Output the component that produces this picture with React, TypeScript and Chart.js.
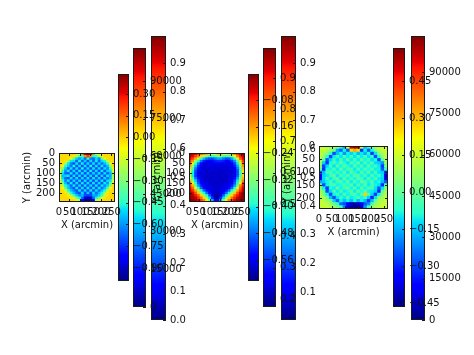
import React, { useEffect, useRef } from "react";
import { Chart, registerables } from "chart.js";

Chart.register(...registerables);

const W = 474;
const H = 355;
const FONT = "'DejaVu Sans', sans-serif";

const gridOne = [
  [-2,-2,-2,-2,-2,-2,-4,-8,10,37,42,38,10,-18,-6,-2,-2,-2,-2,-2],
  [-2,-2,-2,-2,-2,-4,-20,-40,-42,10,22,10,-44,-42,-20,-5,-2,-2,-2,-2],
  [-2,-2,-2,-3,-10,-35,-52,-60,-50,-66,-42,-62,-66,-50,-62,-33,-8,-2,-2,-2],
  [-2,-2,-4,-22,-48,-50,-68,-46,-68,-52,-70,-50,-68,-48,-68,-50,-46,-18,-3,-2],
  [-2,-3,-20,-48,-62,-70,-48,-70,-46,-70,-50,-70,-48,-70,-50,-66,-54,-40,-10,-2],
  [-2,-12,-44,-52,-66,-46,-70,-50,-71,-48,-70,-46,-70,-49,-70,-48,-66,-54,-26,-3],
  [-3,-28,-52,-68,-48,-70,-49,-71,-46,-70,-50,-71,-48,-70,-50,-70,-49,-62,-38,-6],
  [-6,-42,-62,-48,-70,-50,-70,-48,-70,-50,-70,-48,-70,-50,-71,-48,-70,-52,-50,-14],
  [-10,-50,-66,-70,-48,-71,-49,-70,-48,-72,-49,-70,-50,-70,-48,-71,-49,-68,-56,-20],
  [-12,-55,-52,-48,-71,-49,-70,-50,-71,-48,-70,-50,-72,-48,-70,-50,-71,-48,-58,-22],
  [-10,-52,-66,-71,-49,-70,-48,-71,-50,-70,-49,-71,-48,-70,-50,-71,-49,-66,-56,-20],
  [-6,-44,-62,-48,-71,-50,-70,-49,-71,-48,-70,-50,-71,-49,-70,-48,-70,-50,-48,-14],
  [-3,-30,-54,-68,-48,-70,-49,-71,-48,-70,-49,-71,-48,-70,-50,-70,-48,-60,-36,-6],
  [-2,-18,-46,-52,-68,-48,-70,-50,-71,-48,-70,-50,-71,-48,-70,-49,-62,-50,-26,-3],
  [-2,-8,-34,-52,-62,-70,-48,-70,-49,-71,-48,-70,-49,-70,-48,-66,-54,-38,-9,-2],
  [-2,-3,-14,-42,-54,-62,-70,-48,-70,-50,-70,-48,-70,-49,-66,-54,-44,-16,-3,-2],
  [-2,-2,-4,-20,-44,-54,-66,-70,-50,-72,-52,-72,-50,-66,-54,-46,-22,-4,-2,-2],
  [-2,-2,-2,-5,-20,-40,-52,-62,-56,-70,-72,-70,-56,-60,-50,-36,-16,-4,-2,-2],
  [-2,-2,-2,-2,-5,-14,-32,-46,-66,-88,-92,-88,-66,-46,-30,-12,-4,-2,-2,-2],
  [-2,-2,-2,-2,-2,-3,-6,-18,-82,-96,-98,-96,-82,-16,-5,-3,-2,-2,-2,-2],
];

const gridTwo = [
  [-1,-3,-6,-9,-12,-15,-18,-20,-24,-22,-18,-18,-22,-24,-20,-18,-14,-9,-5,-1],
  [-3,-6,-10,-14,-20,-27,-33,-37,-38,-36,-33,-33,-36,-38,-36,-31,-24,-14,-8,-3],
  [-6,-10,-17,-27,-36,-43,-48,-50,-50,-47,-44,-44,-47,-50,-49,-44,-36,-24,-12,-6],
  [-9,-16,-28,-38,-47,-53,-55,-55,-55,-53,-52,-52,-53,-55,-55,-52,-45,-34,-20,-9],
  [-12,-24,-36,-47,-54,-57,-57,-57,-56,-56,-56,-56,-56,-57,-57,-55,-50,-40,-26,-12],
  [-16,-30,-42,-52,-56,-57,-58,-57,-57,-57,-57,-57,-58,-57,-57,-56,-53,-44,-30,-15],
  [-20,-35,-47,-54,-57,-58,-57,-58,-57,-58,-57,-58,-57,-58,-57,-57,-55,-47,-34,-18],
  [-23,-38,-50,-55,-57,-58,-59,-57,-58,-58,-58,-58,-59,-57,-58,-58,-56,-50,-36,-20],
  [-24,-40,-51,-56,-58,-57,-58,-58,-59,-58,-58,-59,-58,-58,-57,-58,-56,-50,-37,-21],
  [-25,-40,-51,-56,-57,-58,-59,-58,-58,-58,-59,-58,-58,-59,-58,-57,-56,-49,-36,-20],
  [-22,-36,-47,-54,-57,-58,-58,-58,-59,-58,-58,-59,-58,-58,-58,-57,-54,-45,-32,-18],
  [-18,-30,-42,-51,-56,-57,-58,-59,-58,-58,-58,-58,-59,-58,-57,-56,-51,-40,-27,-14],
  [-12,-24,-38,-49,-55,-57,-57,-58,-58,-59,-59,-58,-58,-57,-57,-55,-49,-38,-23,-10],
  [-8,-18,-32,-45,-53,-56,-57,-57,-58,-58,-58,-58,-57,-57,-56,-53,-45,-32,-15,-7],
  [-6,-13,-25,-38,-48,-54,-56,-57,-57,-58,-58,-57,-57,-56,-54,-48,-38,-25,-12,-5],
  [-4,-9,-17,-28,-38,-48,-54,-56,-57,-58,-58,-57,-56,-54,-48,-38,-28,-17,-9,-3],
  [-2,-5,-11,-19,-29,-39,-48,-54,-57,-59,-59,-57,-54,-48,-39,-29,-19,-11,-5,-2],
  [-1,-3,-7,-12,-20,-29,-39,-49,-56,-60,-60,-56,-49,-39,-29,-20,-12,-7,-3,-1],
  [-1,-2,-4,-8,-13,-20,-29,-41,-52,-60,-61,-52,-41,-29,-20,-13,-8,-4,-2,-1],
  [0,-1,-2,-5,-9,-14,-22,-32,-44,-55,-55,-44,-32,-22,-14,-9,-5,-2,-1,0],
];

const gridThree = [
  [15,14,15,12,10,8,-4,-16,20,50,55,53,20,-14,-5,6,11,15,14,15],
  [15,15,12,8,4,-16,-24,-8,-24,25,30,25,-28,-8,-24,-8,5,12,15,15],
  [14,12,8,-4,-26,-14,-7,-18,-8,-12,-6,-14,-9,-16,-6,-28,-10,6,12,14],
  [13,8,-4,-26,-9,-2,-10,0,-9,-2,-10,-2,-9,0,-10,-4,-26,-6,8,13],
  [12,3,-24,-12,-3,-10,0,-9,1,-9,-1,-9,1,-8,-1,-11,-7,-26,2,12],
  [10,-12,-28,-7,-1,-8,1,-7,-10,0,-7,1,-9,-1,-8,0,-11,-12,-18,8],
  [6,-27,-11,-2,-10,0,-8,1,-6,-9,0,-8,-1,-9,1,-8,-2,-9,-28,5],
  [2,-30,-7,-8,0,-9,1,-8,0,-1,-9,0,-8,0,-7,0,-9,-8,-24,-3],
  [-22,-14,-3,0,-8,-1,-8,0,-9,1,-6,-9,1,-8,0,-9,-1,-10,-12,-30],
  [-36,-12,-9,-2,1,-9,0,-7,0,-8,1,-1,-8,0,-9,-1,-8,-2,-10,-38],
  [-34,-11,-1,-9,-2,0,-9,1,-8,-1,-8,0,-2,-9,0,-8,0,-9,-11,-36],
  [-16,-13,-8,0,-9,-1,0,-8,1,-9,0,-8,1,-1,-8,1,-9,-7,-14,-24],
  [3,-26,-8,-2,0,-8,-7,0,-7,0,-9,-1,-8,1,-9,-2,-8,-10,-30,0],
  [7,-8,-28,-6,-9,1,-8,-2,1,-8,0,-9,0,-8,-1,0,-10,-24,-10,6],
  [10,3,-26,-11,0,-9,0,-9,-7,1,-9,0,-7,2,-8,-9,-12,-30,2,11],
  [12,7,-8,-26,-8,-2,-9,0,-8,-2,0,-8,0,26,0,-11,-28,-8,7,12],
  [14,11,4,-14,-26,-10,-3,-9,-1,-9,-7,0,-8,-2,-12,-30,-10,6,11,14],
  [15,13,10,4,-12,-24,-8,-14,-8,-14,-6,-14,-8,-14,-28,-14,3,10,13,15],
  [15,15,13,9,3,-4,-22,-26,-34,-40,-42,-40,-34,-24,-18,-2,8,13,15,15],
  [15,15,15,13,9,6,-2,-20,-38,-44,-46,-44,-40,-18,0,8,11,14,15,15],
];

const xTicks = [0, 50, 100, 150, 200, 250];
const yTicks = [0, 50, 100, 150, 200];
const xLabel = "X (arcmin)";
const yLabel = "Y (arcmin)";

const ticksOneA = [0.3, 0.15, 0, -0.15, -0.3, -0.45, -0.6, -0.75, -0.9];
const ticksCounts = [90000, 75000, 60000, 45000, 30000, 15000, 0];
const ticksFraction = [0.9, 0.8, 0.7, 0.6, 0.5, 0.4, 0.3, 0.2, 0.1, 0];
const ticksTwoA = [-0.08, -0.16, -0.24, -0.32, -0.4, -0.48, -0.56];
const ticksTwoB = [0.9, 0.8, 0.7, 0.6, 0.5, 0.4, 0.3, 0.2];
const ticksTwoC = [0.9, 0.8, 0.7, 0.6, 0.5, 0.4, 0.3, 0.2, 0.1];
const ticksThreeA = [0.45, 0.3, 0.15, 0, -0.15, -0.3, -0.45];

const jetStops: [number, string][] = [
  [0, "rgb(0,0,128)"], [0.11, "rgb(0,0,255)"], [0.125, "rgb(0,0,255)"],
  [0.34, "rgb(0,219,255)"], [0.375, "rgb(41,255,206)"], [0.64, "rgb(247,255,0)"],
  [0.66, "rgb(255,236,0)"], [0.89, "rgb(255,18,0)"], [0.91, "rgb(228,0,0)"], [1, "rgb(128,0,0)"],
];

function interp(pts: number[][], t: number) {
  for (let i = 1; i < pts.length; i++) {
    if (t <= pts[i][0]) {
      const [a, va] = pts[i - 1];
      const [b, vb] = pts[i];
      return va + ((vb - va) * (t - a)) / (b - a);
    }
  }
  return pts[pts.length - 1][1];
}
function jet(t0: number) {
  const t = Math.max(0, Math.min(1, t0));
  const r = interp([[0, 0], [0.35, 0], [0.66, 1], [0.89, 1], [1, 0.5]], t);
  const g = interp([[0, 0], [0.125, 0], [0.375, 1], [0.64, 1], [0.91, 0], [1, 0]], t);
  const b = interp([[0, 0.5], [0.11, 1], [0.34, 1], [0.65, 0], [1, 0]], t);
  return `rgb(${Math.round(r * 255)},${Math.round(g * 255)},${Math.round(b * 255)})`;
}

type Box = { x0: number; x1: number; y0: number; y1: number };

const framePlugin = {
  id: "frame",
  afterDatasetsDraw(chart: any, _a: any, opts: any) {
    if (opts.hidden) return;
    const { ctx, chartArea: a, scales } = chart;
    ctx.save();
    ctx.strokeStyle = "#1a1a1a";
    ctx.lineWidth = 1;
    ctx.strokeRect(Math.round(a.left) + 0.5, Math.round(a.top) + 0.5, Math.round(a.right - a.left) - 1, Math.round(a.bottom - a.top) - 1);
    ctx.beginPath();
    const len = 3;
    for (const t of scales.y.ticks) {
      const p = Math.round(scales.y.getPixelForValue(t.value)) + 0.5;
      ctx.moveTo(a.right, p);
      ctx.lineTo(a.right - len, p);
      if (opts.all) {
        ctx.moveTo(a.left, p);
        ctx.lineTo(a.left + len, p);
      }
    }
    if (opts.all) {
      for (const t of scales.x.ticks) {
        const p = Math.round(scales.x.getPixelForValue(t.value)) + 0.5;
        ctx.moveTo(p, a.top);
        ctx.lineTo(p, a.top + len);
        ctx.moveTo(p, a.bottom);
        ctx.lineTo(p, a.bottom - len);
      }
    }
    ctx.stroke();
    ctx.restore();
  },
};

function valueBar(canvas: HTMLCanvasElement, box: Box, min: number, max: number, ticks: number[], digits: number) {
  return new Chart(canvas, {
    type: "bar",
    data: {
      labels: [""],
      datasets: [{
        data: [[min, max]] as any,
        barPercentage: 1,
        categoryPercentage: 1,
        borderWidth: 0,
        inflateAmount: 0,
        backgroundColor: (c: any) => {
          const a = c.chart.chartArea;
          if (!a) return "#000";
          const g = c.chart.ctx.createLinearGradient(0, a.bottom, 0, a.top);
          jetStops.forEach(([s, col]) => g.addColorStop(s, col));
          return g;
        },
      }],
    },
    plugins: [framePlugin],
    options: {
      responsive: false,
      animation: false,
      events: [],
      layout: { padding: { left: box.x0, top: box.y0, bottom: H - box.y1, right: 0 } },
      plugins: { legend: { display: false }, tooltip: { enabled: false }, frame: { all: false } } as any,
      scales: {
        x: { display: false },
        y: {
          position: "right",
          min,
          max,
          grid: { display: false, drawTicks: false },
          border: { display: false },
          afterFit: (s: any) => { s.width = W - box.x1; },
          afterBuildTicks: (s: any) => { s.ticks = ticks.map((value) => ({ value })); },
          ticks: {
            autoSkip: false,
            padding: 4,
            color: "#111",
            font: { family: FONT, size: 10 },
            callback: (v: any) => Number(v).toFixed(digits).replace("-", "\u2212"),
          },
        },
      },
    },
  } as any);
}

// layer "cells" draws the image only, layer "axes" its frame, ticks and titles.
function heatMap(canvas: HTMLCanvasElement, layer: "cells" | "axes", box: Box, grid: number[][], xMax: number, yMax: number, min: number, max: number) {
  const cols = grid[0].length;
  const rows = grid.length;
  const cw = xMax / cols;
  const ch = yMax / rows;
  const cells: any[] = [];
  if (layer === "cells") {
    grid.forEach((row, r) => row.forEach((v, c) => {
      cells.push({ x: (c + 0.5) * cw, y: [r * ch, (r + 1) * ch], v: v / 100 });
    }));
  }
  const base = { size: 10, family: FONT };
  const ink = layer === "axes" ? "#111" : "rgba(0,0,0,0)";
  return new Chart(canvas, {
    type: "bar",
    data: {
      datasets: [{
        data: cells,
        barPercentage: 1,
        categoryPercentage: 1,
        borderWidth: 0,
        inflateAmount: 0.5,
        backgroundColor: (c: any) => jet(((c.raw ? c.raw.v : min) - min) / (max - min)),
      }],
    },
    plugins: [framePlugin],
    options: {
      responsive: false,
      animation: false,
      events: [],
      layout: { padding: { left: 0, top: box.y0, bottom: 0, right: W - box.x1 } },
      plugins: { legend: { display: false }, tooltip: { enabled: false }, frame: { all: true, hidden: layer === "cells" } } as any,
      scales: {
        x: {
          type: "linear",
          position: "bottom",
          offset: false,
          min: 0,
          max: xMax,
          grid: { display: false, drawTicks: false, offset: false },
          border: { display: false },
          afterFit: (s: any) => { s.height = H - box.y1; },
          afterBuildTicks: (s: any) => { s.ticks = xTicks.map((value) => ({ value })); },
          ticks: { autoSkip: false, minRotation: 0, maxRotation: 0, padding: 4, color: ink, font: base, callback: (v: any) => String(v) },
          title: { display: true, text: xLabel, color: ink, font: base, padding: { top: 0, bottom: H - box.y1 - 29 } },
        },
        y: {
          type: "linear",
          position: "left",
          reverse: true,
          min: 0,
          max: yMax,
          grid: { display: false, drawTicks: false },
          border: { display: false },
          afterFit: (s: any) => { s.width = box.x0; },
          afterBuildTicks: (s: any) => { s.ticks = yTicks.map((value) => ({ value })); },
          ticks: { autoSkip: false, padding: 4, color: ink, font: base, callback: (v: any) => String(v) },
          title: { display: true, text: yLabel, color: ink, font: base, padding: { top: box.x0 - 38, bottom: 0 } },
        },
      },
    },
  } as any);
}

const LAYERS = 14;
const CELL_LAYERS = [8, 10, 12];

export default function App() {
  const refs = useRef<(HTMLCanvasElement | null)[]>([]);
  useEffect(() => {
    const c = refs.current as HTMLCanvasElement[];
    const boxOne = { x0: 59, x1: 115, y0: 153, y1: 202 };
    const boxTwo = { x0: 189, x1: 245, y0: 153, y1: 202 };
    const boxThree = { x0: 319, x1: 388, y0: 146, y1: 209 };
    const charts = [
      valueBar(c[0], { x0: 151, x1: 166, y0: 36, y1: 320 }, 0, 0.995, ticksFraction, 1),
      valueBar(c[1], { x0: 133, x1: 146, y0: 48, y1: 307 }, 0, 103200, ticksCounts, 0),
      valueBar(c[2], { x0: 118, x1: 129, y0: 74, y1: 281 }, -0.99, 0.438, ticksOneA, 2),
      valueBar(c[3], { x0: 281, x1: 296, y0: 36, y1: 320 }, 0.002, 0.995, ticksTwoC, 1),
      valueBar(c[4], { x0: 263, x1: 276, y0: 48, y1: 307 }, 0.175, 0.995, ticksTwoB, 1),
      valueBar(c[5], { x0: 248, x1: 259, y0: 74, y1: 281 }, -0.623, -0.002, ticksTwoA, 2),
      valueBar(c[6], { x0: 411, x1: 425, y0: 36, y1: 320 }, 0, 103200, ticksCounts, 0),
      valueBar(c[7], { x0: 393, x1: 405, y0: 48, y1: 307 }, -0.466, 0.584, ticksThreeA, 2),
      heatMap(c[8], "cells", boxOne, gridOne, 267, 242, -0.99, 0.438),
      heatMap(c[9], "axes", boxOne, gridOne, 267, 242, -0.99, 0.438),
      heatMap(c[10], "cells", boxTwo, gridTwo, 267, 242, -0.623, -0.002),
      heatMap(c[11], "axes", boxTwo, gridTwo, 267, 242, -0.623, -0.002),
      heatMap(c[12], "cells", boxThree, gridThree, 267, 242, -0.466, 0.584),
      heatMap(c[13], "axes", boxThree, gridThree, 267, 242, -0.466, 0.584),
    ];
    return () => charts.forEach((ch) => ch.destroy());
  }, []);
  return (
    <div style={{ position: "absolute", left: 0, top: 0, width: W, height: H, overflow: "hidden", background: "#fff" }}>
      {Array.from({ length: LAYERS }).map((_, i) => (
        <canvas
          key={i}
          ref={(el) => { refs.current[i] = el; }}
          width={W}
          height={H}
          style={{ position: "absolute", left: 0, top: 0, width: W, height: H, filter: CELL_LAYERS.includes(i) ? "blur(0.7px)" : "blur(0.35px)" }}
        />
      ))}
    </div>
  );
}
